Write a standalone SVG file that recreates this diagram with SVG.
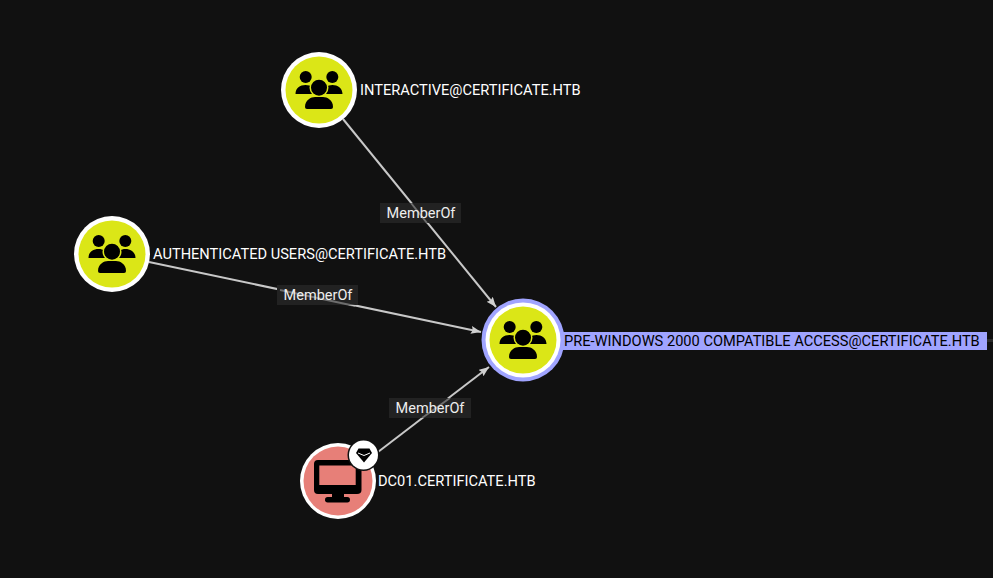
<svg xmlns="http://www.w3.org/2000/svg" width="993" height="578" viewBox="0 0 993 578">
<style>
text{font-family:Roboto,"Liberation Sans",sans-serif;font-size:14.63px;fill:#fff}
.edge{stroke:#c8c8c8;stroke-width:2;fill:none;marker-end:url(#arr)}
.dim{stroke:#c8c8c8;stroke-width:2;opacity:.45}
.lb{fill:#222}
.el{font-size:14.500px;fill:#eee;text-anchor:middle}
.ring{fill:#fff}
.y{fill:#dbe617}
.k{fill:#000}
</style>
<defs>
<marker id="arr" markerUnits="userSpaceOnUse" markerWidth="12" markerHeight="10" refX="10" refY="4" orient="auto"><path d="M0 0L10 4L0 8L1.500 4Z" fill="#d0d0d0"/></marker>
<g id="users">
<circle r="33.500" class="y"/>
<circle cx="-13.300" cy="-13" r="6" class="k"/>
<circle cx="13.300" cy="-13" r="6" class="k"/>
<path class="k" d="M-23.500 4C-23.500-2-19-5-13.500-5S-4-2-4 4ZM4 4C4-2 8.500-5 13.500-5S23.500-2 23.500 4Z"/>
<circle cy="-2.300" r="9.500" class="y"/>
<circle cy="-2.300" r="8" class="k"/>
<path class="k" d="M-14 17C-14 10-8 7-4 7H4C8 7 14 10 14 17Q14 19 12 19H-12Q-14 19-14 17Z"/>
</g>
</defs>
<rect width="993" height="578" fill="#111"/>
<g id="connectors">
<line class="edge" x1="343" y1="119" x2="496" y2="307"/>
<line class="edge" x1="149" y1="262" x2="481" y2="332"/>
<line class="edge" x1="378" y1="452" x2="489" y2="367"/>
<rect class="lb" x="380" y="203" width="81" height="20"/>
<rect class="lb" x="277" y="285" width="81" height="20"/>
<rect class="lb" x="389" y="398" width="82" height="20"/>
<line class="dim" x1="411" y1="203" x2="427" y2="223"/>
<line class="dim" x1="280" y1="290" x2="355" y2="306"/>
<line class="dim" x1="422" y1="418" x2="450" y2="398"/>
<text class="el" x="421" y="218">MemberOf</text>
<text class="el" x="318" y="300">MemberOf</text>
<text class="el" x="430" y="413">MemberOf</text>
</g>
<g id="node-interactive">
<circle class="ring" cx="319" cy="90" r="38"/>
<use href="#users" x="319" y="90"/>
<text x="360" y="95">INTERACTIVE@CERTIFICATE.HTB</text>
</g>
<g id="node-authenticated">
<circle class="ring" cx="112" cy="254" r="38"/>
<use href="#users" x="112" y="254"/>
<text x="153" y="259">AUTHENTICATED USERS@CERTIFICATE.HTB</text>
</g>
<g id="node-prewindows">
<rect x="556" y="332" width="431" height="18" fill="#a0a4ff"/>
<rect x="987" y="339" width="6" height="3" fill="#2a2a2a"/>
<circle cx="523" cy="340" r="41.500" fill="#a0a4ff"/>
<circle class="ring" cx="523" cy="340" r="37.500"/>
<use href="#users" x="523" y="340"/>
<text x="564" y="346" style="fill:#000">PRE-WINDOWS 2000 COMPATIBLE ACCESS@CERTIFICATE.HTB</text>
</g>
<g id="node-dc01">
<circle class="ring" cx="338" cy="481" r="38"/>
<circle cx="338" cy="481" r="34.500" fill="#e77f78"/>
<path class="k" fill-rule="evenodd" d="M318 460H357Q361.500 460 361.500 464V490Q361.500 494 357 494H318Q314 494 314 490V464Q314 460 318 460ZM319.300 465.500V485H355.700V465.500Z"/>
<rect class="k" x="332" y="494" width="12" height="4"/>
<rect class="k" x="325" y="497" width="25" height="5.500" rx="2.700"/>
<circle cx="363.500" cy="455" r="16" fill="#111"/>
<circle cx="363.500" cy="455" r="14.500" fill="#fff"/>
<path class="k" d="M358.500 448.500H369.500L372 453L364 462.500L356 453Z"/>
<path d="M358 453L364 455.500L370 453" fill="none" stroke="#fff" stroke-width="1"/>
<text x="378" y="486">DC01.CERTIFICATE.HTB</text>
</g>
</svg>
